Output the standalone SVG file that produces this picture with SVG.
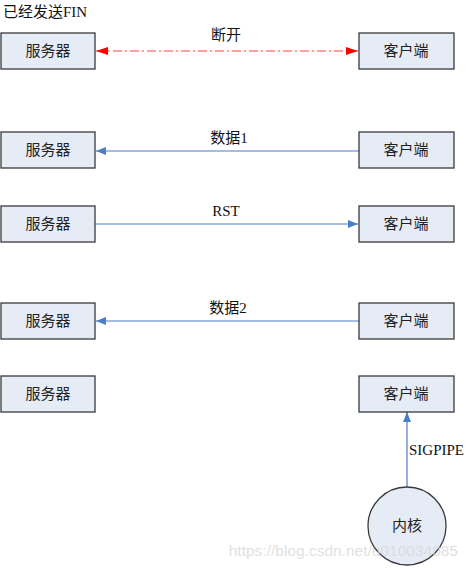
<svg xmlns="http://www.w3.org/2000/svg" width="468" height="568" viewBox="0 0 468 568">
<defs>
<style>
.box{fill:#E6ECF6;stroke:#3a3a3a;stroke-width:1.3}
.t{font-family:"Liberation Serif","Noto Sans CJK SC",serif;font-size:15px;fill:#222;text-anchor:middle}
.lbl{font-family:"Liberation Serif","Noto Sans CJK SC",serif;font-size:15px;fill:#111;text-anchor:middle}
.blue{stroke:#4A7EC8;stroke-width:1.2;fill:none}
.red{stroke:#FF4040;stroke-width:1.2;fill:none;stroke-dasharray:9 3 2 3}
</style>
<marker id="ab" viewBox="0 0 10 8" refX="10" refY="4" markerWidth="10" markerHeight="8" markerUnits="userSpaceOnUse" orient="auto">
<path d="M0,0 L10,4 L0,8 z" fill="#4A7EC8"/>
</marker>
<marker id="ar" viewBox="0 0 12 8" refX="12" refY="4" markerWidth="12" markerHeight="8" markerUnits="userSpaceOnUse" orient="auto-start-reverse">
<path d="M0,0 L12,4 L0,8 z" fill="#FF0000"/>
</marker>
</defs>
<rect width="468" height="568" fill="#fff"/>
<text x="3" y="17" font-family="'Liberation Serif','Noto Sans CJK SC',serif" font-size="15" fill="#111">已经发送FIN</text>
<g id="connectors">
<line class="red" x1="96" y1="51" x2="358" y2="51" marker-start="url(#ar)" marker-end="url(#ar)"/>
<text class="lbl" x="226" y="40">断开</text>
<line class="blue" x1="359" y1="151" x2="96" y2="151" marker-end="url(#ab)"/>
<text class="lbl" x="229" y="143">数据1</text>
<line class="blue" x1="95" y1="224" x2="358" y2="224" marker-end="url(#ab)"/>
<text class="lbl" x="226" y="216">RST</text>
<line class="blue" x1="359" y1="321" x2="96" y2="321" marker-end="url(#ab)"/>
<text class="lbl" x="228" y="313">数据2</text>
<line class="blue" x1="407" y1="487" x2="407" y2="412" marker-end="url(#ab)"/>
<text x="409" y="455" font-family="'Liberation Serif',serif" font-size="15" fill="#111">SIGPIPE</text>
</g>
<g id="s1"><rect class="box" x="1" y="33" width="94" height="36"/><text class="t" x="48" y="56">服务器</text></g>
<g id="c1"><rect class="box" x="359" y="33" width="95" height="36"/><text class="t" x="406" y="56">客户端</text></g>
<g id="s2"><rect class="box" x="1" y="132" width="94" height="36"/><text class="t" x="48" y="155">服务器</text></g>
<g id="c2"><rect class="box" x="359" y="132" width="95" height="36"/><text class="t" x="406" y="155">客户端</text></g>
<g id="s3"><rect class="box" x="1" y="206" width="94" height="36"/><text class="t" x="48" y="229">服务器</text></g>
<g id="c3"><rect class="box" x="359" y="206" width="95" height="36"/><text class="t" x="406" y="229">客户端</text></g>
<g id="s4"><rect class="box" x="1" y="303" width="94" height="36"/><text class="t" x="48" y="326">服务器</text></g>
<g id="c4"><rect class="box" x="359" y="303" width="95" height="36"/><text class="t" x="406" y="326">客户端</text></g>
<g id="s5"><rect class="box" x="1" y="376" width="94" height="36"/><text class="t" x="48" y="399">服务器</text></g>
<g id="c5"><rect class="box" x="359" y="376" width="95" height="36"/><text class="t" x="406" y="399">客户端</text></g>
<g id="kernel"><circle cx="407" cy="526" r="39" fill="#E6ECF6" stroke="#3a3a3a" stroke-width="1.3"/><text class="t" x="407" y="531">内核</text></g>
<text x="458" y="556" text-anchor="end" font-family="'Liberation Sans',sans-serif" font-size="15.5" fill="#d8d8d8" fill-opacity="0.8">https://blog.csdn.net/u010034085</text>
</svg>
